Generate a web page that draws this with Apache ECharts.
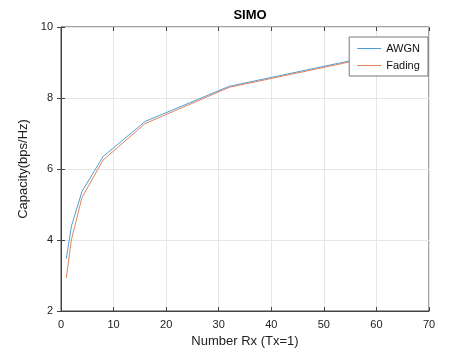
<!DOCTYPE html>
<html>
<head>
<meta charset="utf-8">
<script src="https://cdn.jsdelivr.net/npm/echarts@6/dist/echarts.min.js"></script>
<style>
  html, body { margin: 0; padding: 0; background: #fff; }
  #chart { width: 474px; height: 353px; }
</style>
</head>
<body>
<div id="chart"></div>
<script>
// number of receive antennas
var rx = [1, 2, 4, 8, 16, 32, 64]
// capacity
var awgn = [3.47, 4.40, 5.37, 6.35, 7.34, 8.33, 9.33]
var fading = [2.93, 4.02, 5.20, 6.25, 7.28, 8.30, 9.30]

var font = 'Liberation Sans, Arial, Helvetica, sans-serif'
var blue = '#4f9fd6'
var orange = '#e2825f'
var myChart = echarts.init(document.getElementById('chart'))

function pairs(xs, ys) {
  return xs.map(function (x, i) { return [x, ys[i]] })
}

var tick = { show: true, inside: true, length: 4, lineStyle: { color: '#444' } }

var option = {
  animation: false,
  title: {
    text: 'SIMO',
    left: 245,
    textAlign: 'center',
    top: 4,
    textStyle: { fontFamily: font, fontSize: 13, fontWeight: 'bold', color: '#000' }
  },
  legend: {
    orient: 'vertical',
    right: 46,
    top: 37,
    data: [
      { name: 'AWGN', itemStyle: { color: blue } },
      { name: 'Fading', itemStyle: { color: orange } }
    ],
    icon: 'rect',
    itemWidth: 24,
    itemHeight: 1,
    itemGap: 6,
    padding: [6, 8, 5, 8],
    borderColor: '#777',
    borderWidth: 1,
    backgroundColor: '#fff',
    textStyle: { fontFamily: font, fontSize: 11, color: '#111' }
  },
  grid: {
    left: 61,
    right: 45,
    top: 27,
    bottom: 38,
    show: true,
    borderColor: '#444',
    borderWidth: 1
  },
  xAxis: [
    {
      type: 'value',
      min: 0,
      max: 70,
      interval: 10,
      name: 'Number Rx (Tx=1)',
      nameLocation: 'middle',
      nameGap: 24,
      nameTextStyle: { fontFamily: font, fontSize: 13, color: '#222' },
      axisLine: { show: true, lineStyle: { color: '#444' } },
      axisTick: tick,
      axisLabel: { fontFamily: font, fontSize: 11, color: '#222', margin: 8 },
      splitLine: { show: true, lineStyle: { color: '#e6e6e6' } }
    },
    {
      type: 'value',
      position: 'top',
      min: 0,
      max: 70,
      interval: 10,
      axisLine: { show: false },
      axisTick: tick,
      axisLabel: { show: false },
      splitLine: { show: false }
    }
  ],
  yAxis: [
    {
      type: 'value',
      min: 2,
      max: 10,
      interval: 2,
      name: 'Capacity(bps/Hz)',
      nameLocation: 'middle',
      nameGap: 28,
      nameTextStyle: { fontFamily: font, fontSize: 13, color: '#222' },
      axisLine: { show: true, lineStyle: { color: '#444' } },
      axisTick: tick,
      axisLabel: { fontFamily: font, fontSize: 11, color: '#222', margin: 8 },
      splitLine: { show: true, lineStyle: { color: '#e6e6e6' } }
    },
    {
      type: 'value',
      position: 'right',
      min: 2,
      max: 10,
      interval: 2,
      axisLine: { show: false },
      axisTick: tick,
      axisLabel: { show: false },
      splitLine: { show: false }
    }
  ],
  series: [
    {
      name: 'AWGN',
      type: 'line',
      data: pairs(rx, awgn),
      symbol: 'none',
      itemStyle: { color: blue },
      lineStyle: { width: 1, color: blue }
    },
    {
      name: 'Fading',
      type: 'line',
      data: pairs(rx, fading),
      symbol: 'none',
      itemStyle: { color: orange },
      lineStyle: { width: 1, color: orange }
    }
  ]
}
myChart.setOption(option)
</script>
</body>
</html>
